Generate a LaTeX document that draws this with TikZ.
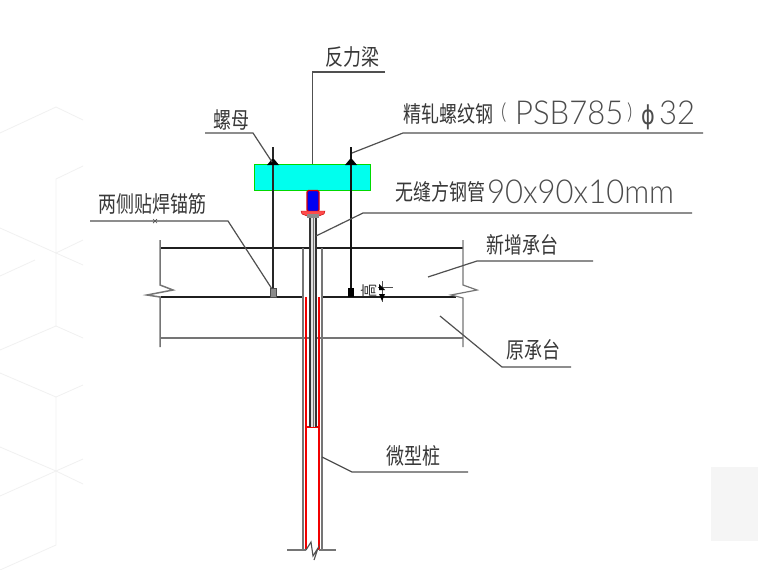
\documentclass[tikz,border=0pt]{standalone}
\usepackage{fontspec}
\setmainfont{Liberation Sans}
\newfontfamily\cjk{Noto Sans CJK SC}[FakeStretch=0.8]
\newfontfamily\lat{Lato Light}[FakeStretch=0.94]
\newfontfamily\phifont{DejaVu Sans}[FakeStretch=0.8]
\definecolor{hexc}{HTML}{F1F1F1}
\definecolor{ln}{HTML}{505050}
\definecolor{grayln}{HTML}{757575}
\definecolor{beamc}{HTML}{00FFEE}
\tikzset{
 hexline/.style={hexc,line width=0.8pt},
 leader/.style={ln,line width=1.2pt},
 thickl/.style={black!88,line width=2.4pt},
 grayl/.style={grayln,line width=1.5pt},
 redl/.style={red!95!black,line width=1.6pt},
 lbl/.style={inner sep=0pt,text=black!78,font=\cjk\fontsize{22.5}{22.5}\selectfont},
 big/.style={inner sep=0pt,text=black!70,anchor=west,font=\lat\fontsize{33}{33}\selectfont},
}
\begin{document}
\begin{tikzpicture}[x=1pt,y=-1pt]
\useasboundingbox (0,0) rectangle (760,570);
\fill[white] (0,0) rectangle (760,570);
% background
\fill[black!4] (711,467) rectangle (758,541);
\draw[hexline] (0,133)--(56,107)--(83,120);
\draw[hexline] (83,166)--(56,179)--(56,326);
\draw[hexline] (0,228)--(56,253)--(83,265);
\draw[hexline] (0,276)--(35,260);
\draw[hexline] (56,253)--(83,240);
\draw[hexline] (0,350)--(56,326)--(83,338);
\draw[hexline] (0,373)--(56,397)--(83,385);
\draw[hexline] (56,397)--(56,545)--(0,570);
\draw[hexline] (0,447)--(56,471)--(83,484);
\draw[hexline] (0,496)--(56,471)--(83,459);
% caps
\coordinate (tl) at (161,248); \coordinate (tr) at (463,248);
\coordinate (ml) at (161,297); \coordinate (mr) at (456,297);
\coordinate (bl) at (161,338); \coordinate (br) at (463,338);
\draw[thickl,line width=2pt] (tl)--(tr);
\draw[thickl] (ml)--(303,297) (322,297)--(mr);
\draw[grayl] (bl)--(br);
\draw[grayl] (160,240)--(160,285)--(173,290)--(147,295)--(160,297)--(160,347);
\draw[grayl,line width=1.2pt] (463,240)--(463,285)--(477,290)--(451,295)--(463,298)--(463,347);
% pile
\draw[grayl] (303,248)--(303,550) (322,248)--(322,550);
\draw[redl] (306,297)--(306,550) (319,297)--(319,550) (306,427)--(319,427);
\draw[grayl,line width=1.2pt] (287,550)--(306,550) (319,550)--(336,550);
\draw[ln,line width=1.1pt] (306,550)--(311,542)--(313,556)--(318,548)--(314,560);
% pipe
\fill[black!12] (310,216) rectangle (316,427);
\draw[black!80,line width=1.5pt] (310,216)--(310,427) (316,216)--(316,427);
\draw[black!55,line width=0.8pt] (313,216)--(313,427);
% beam
\node[draw=green!85!black,fill=beamc,line width=0.9pt,minimum width=116pt,minimum height=26pt,inner sep=0pt] (beam) at (312.5,177) {};
\node[draw=red!85!black,fill=blue!95!black,line width=1.4pt,minimum width=12pt,minimum height=21pt,inner sep=0pt,rounded corners=1.5pt] (block) at (313,201) {};
\fill[red!70!white,draw=red!75!black,line width=0.4pt] (301,211)--(325,211)--(324,214)--(319,216)--(307,216)--(302,214)--cycle;
\fill[black!45] (307,214) rectangle (319,218);
% rods
\draw[black!85,line width=1.5pt] (273,147)--(273,297);
\draw[black!92,line width=2.5pt] (351,147)--(351,297);
\fill[black] (267,165)--(279,165)--(274,159)--(272,159)--cycle;
\fill[black] (345,165)--(357,165)--(352,159)--(350,159)--cycle;
\fill[black!45,draw=black!70,line width=0.6pt] (270,288) rectangle (276,297);
\fill[black] (348,288) rectangle (354,297);
% dimension
\draw[ln,line width=0.9pt] (378,287)--(393,287);
\draw[ln,line width=1pt] (382,281)--(382,302);
\fill[black] (379,284)--(385,290)--(379,290)--cycle (379,294)--(385,294)--(382,301)--cycle;
\node[lbl,rotate=90,font=\cjk\fontsize{17}{17}\selectfont] (dim) at (369,291) {高};
% labels & leaders
\node[lbl] (t1) at (352,57) {反力梁};
\coordinate (a1) at (312.5,72);
\draw[leader] (385,72)--(a1)--(beam.north-|a1);
\node[lbl] (t2) at (231,120) {螺母};
\coordinate (a2) at (253,133);
\draw[leader] (205,133)--(a2)--(272,162);
\node[lbl,anchor=west] (t3) at (403,114) {精轧螺纹钢};
\node[big,font=\lat\fontsize{22}{22}\selectfont] (t3a) at (501,113) {(};
\node[big] (t3b) at (515,113) {PSB785};
\node[big,font=\lat\fontsize{22}{22}\selectfont] (t3c) at (627,113) {)};
\node[big,font=\phifont\fontsize{26}{26}\selectfont] (t3d) at (641,117) {ϕ};
\node[big] (t3e) at (659,113) {32};
\coordinate (a3) at (403,133);
\draw[leader] (703,133)--(a3)--(352,153);
\node[lbl,anchor=west] (t4) at (395,192) {无缝方钢管};
\node[big] (t4b) at (487,192) {90x90x10mm};
\coordinate (a4) at (363,213);
\draw[leader] (692,213)--(a4)--(316,236);
\node[lbl] (t5) at (152,204) {两侧贴焊锚筋};
\coordinate (a5) at (228,221);
\draw[leader] (90,221)--(a5)--(272,289);
\draw[ln,line width=0.7pt] (153,219)--(155,221)--(153,223) (157,219)--(155,221)--(157,223);
\node[lbl] (t6) at (522,245) {新增承台};
\coordinate (a6) at (477,261);
\draw[leader] (593,261)--(a6)--(428,277);
\node[lbl] (t7) at (533,350) {原承台};
\coordinate (a7) at (502,367);
\draw[leader] (571,367)--(a7)--(440,316);
\node[lbl] (t8) at (413,456) {微型桩};
\coordinate (a8) at (352,472);
\draw[leader] (468,472)--(a8)--(322,457);
\end{tikzpicture}
\end{document}
